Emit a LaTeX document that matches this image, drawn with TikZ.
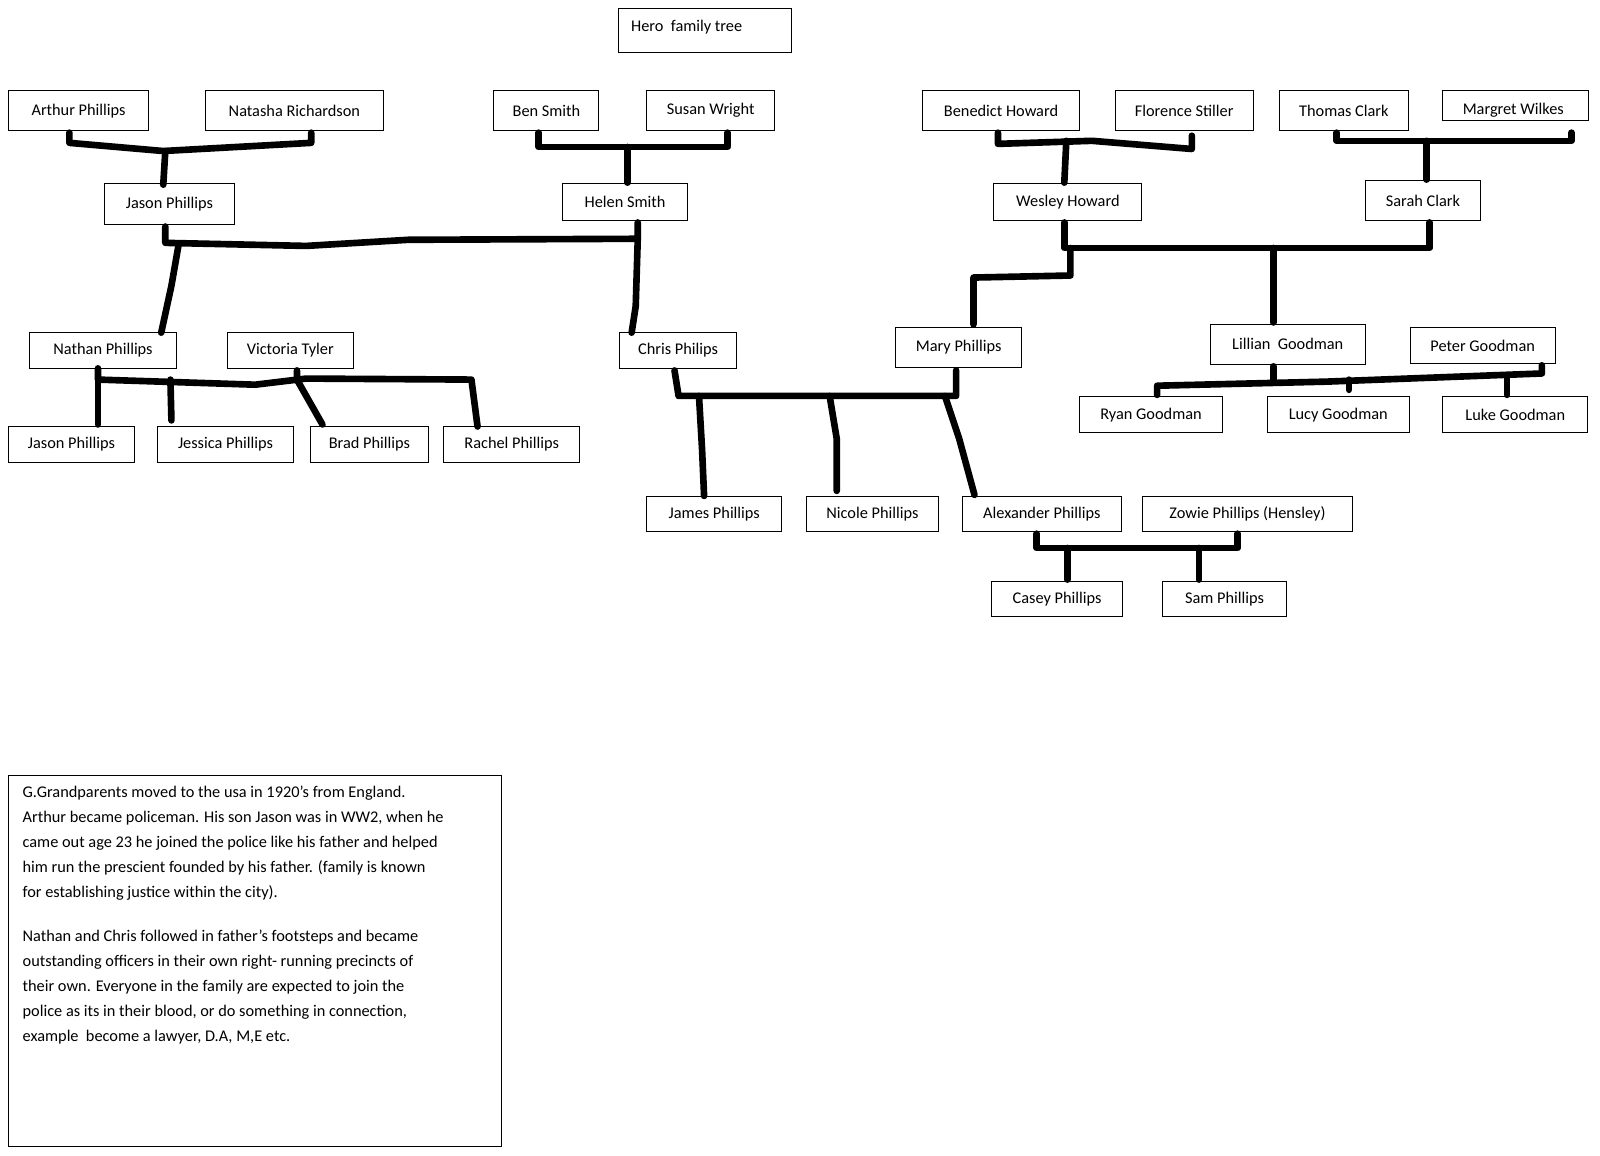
\documentclass[tikz,border=0pt]{standalone}
\usepackage{fontspec}
\setmainfont{Carlito}
\begin{document}
\begin{tikzpicture}[x=1pt,y=-1pt,
  tl/.style={line width=6.5pt,line cap=round,line join=round},
  every node/.style={font=\fontsize{16}{18}\selectfont}]
\useasboundingbox (0,0) rectangle (1568,1132);
\newcommand\bx[6]{\draw[line width=1pt] (#2,#3) rectangle (#4,#5); \node (#1) at ({(#2+#4)/2},{(#3+#5)/2}) {#6};}
\draw[line width=1pt] (606,8) rectangle (776,51); \node[anchor=west] (title) at (615,27) {Hero\ \ family tree};
\bx{ap}{8}{89}{146}{128}{Arthur Phillips}
\bx{nr}{201}{89}{376}{128}{Natasha Richardson}
\bx{bs}{484}{89}{587}{128}{Ben Smith}
\bx{sw}{634}{89}{759}{128}{Susan Wright}
\bx{bh}{904}{89}{1058}{128}{Benedict Howard}
\bx{fs}{1093}{89}{1228}{128}{Florence Stiller}
\bx{tc}{1254}{89}{1380}{128}{Thomas Clark}
\bx{mw}{1414}{89}{1557}{118}{}
\node (mwt) at (1483,108) {Margret Wilkes};
\bx{jp}{102}{180}{230}{220}{Jason Phillips}
\bx{hs}{551}{180}{674}{216}{Helen Smith}
\bx{wh}{974}{180}{1119}{216}{Wesley Howard}
\bx{sc}{1338}{177}{1451}{216}{Sarah Clark}
\bx{np}{29}{326}{173}{361}{Nathan Phillips}
\bx{vt}{223}{326}{346}{361}{Victoria Tyler}
\bx{cp}{607}{326}{722}{361}{Chris Philips}
\bx{mp}{878}{321}{1001}{360}{Mary Phillips}
\bx{lg}{1186}{318}{1338}{357}{Lillian\ \ Goodman}
\bx{pg}{1382}{321}{1524}{356}{Peter Goodman}
\bx{jp2}{8}{418}{132}{453}{Jason Phillips}
\bx{jsp}{154}{418}{288}{453}{Jessica Phillips}
\bx{bp}{304}{418}{420}{453}{Brad Phillips}
\bx{rp}{435}{418}{568}{453}{Rachel Phillips}
\bx{rg}{1058}{389}{1198}{424}{Ryan Goodman}
\bx{lcg}{1242}{389}{1381}{424}{Lucy Goodman}
\bx{lkg}{1414}{389}{1556}{424}{Luke Goodman}
\bx{jmp}{634}{487}{766}{521}{James Phillips}
\bx{ncp}{790}{487}{920}{521}{Nicole Phillips}
\bx{alp}{943}{487}{1099}{521}{Alexander Phillips}
\bx{zp}{1120}{487}{1325}{521}{Zowie Phillips (Hensley)}
\bx{csp}{972}{570}{1100}{604}{Casey Phillips}
\bx{smp}{1139}{570}{1261}{604}{Sam Phillips}
% connectors
\draw[tl] (68,130)--(68,140)--(160,148)--(305,140)--(305,130);
\draw[tl] (162,148)--(160,181);
\draw[tl] (528,130)--(528,144)--(713,144)--(713,130);
\draw[tl] (615,144)--(615,179);
\draw[tl] (162,222)--(162,238)--(300,241)--(400,235)--(625,234)--(625,218);
\draw[tl] (175,240)--(168,280)--(158,326);
\draw[tl] (625,234)--(623,300)--(619,326);
\draw[tl] (978,130)--(978,141)--(1070,138)--(1168,146)--(1168,133);
\draw[tl] (1045,138)--(1043,179);
\draw[tl] (1310,130)--(1310,138)--(1540,138)--(1540,130);
\draw[tl] (1398,138)--(1398,176);
\draw[tl] (1043,218)--(1043,243)--(1401,243)--(1401,218);
\draw[tl] (1049,243)--(1049,270)--(954,272)--(954,318);
\draw[tl] (1248,243)--(1248,316);
\draw[tl] (96,361)--(96,372)--(250,377)--(300,371)--(462,372)--(468,418);
\draw[tl] (96,372)--(96,416);
\draw[tl] (167,372)--(168,412);
\draw[tl] (291,363)--(291,372)--(316,416);
\draw[tl] (661,363)--(665,388)--(937,388)--(937,363);
\draw[tl] (685,388)--(688,440)--(690,486);
\draw[tl] (813,388)--(820,430)--(820,481);
\draw[tl] (926,388)--(940,430)--(955,485);
\draw[tl] (1248,359)--(1248,372);
\draw[tl] (1134,387)--(1134,378)--(1300,374)--(1511,366)--(1511,358);
\draw[tl] (1322,372)--(1322,382);
\draw[tl] (1477,369)--(1477,387);
\draw[tl] (1016,523)--(1016,537)--(1213,537)--(1213,523);
\draw[tl] (1046,537)--(1046,568);
\draw[tl] (1175,537)--(1175,568);
% text box
\draw[line width=1pt] (8,760) rectangle (491,1124);
\node[anchor=north west,align=left,inner sep=0pt,font=\fontsize{16}{24.5}\selectfont] (txt) at (22,770) {%
G.Grandparents moved to the usa in 1920’s from England.\\
Arthur became policeman. His son Jason was in WW2, when he\\
came out age 23 he joined the police like his father and helped\\
him run the prescient founded by his father. (family is known\\
for establishing justice within the city).\\[19pt]
Nathan and Chris followed in father’s footsteps and became\\
outstanding officers in their own right- running precincts of\\
their own. Everyone in the family are expected to join the\\
police as its in their blood, or do something in connection,\\
example\ \ become a lawyer, D.A, M,E etc.};
\end{tikzpicture}
\end{document}
